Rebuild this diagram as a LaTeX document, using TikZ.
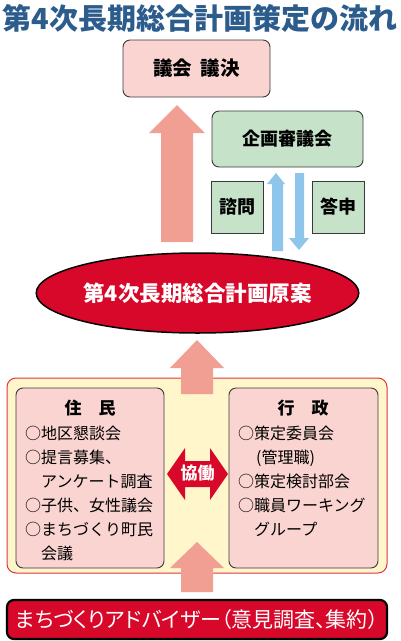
\documentclass[tikz,border=0pt]{standalone}
\usepackage{fontspec}
\setmainfont{Noto Sans CJK JP}
\newfontfamily\paltfont[RawFeature=+palt]{Noto Sans CJK JP}
\usetikzlibrary{shapes.geometric}
\definecolor{titleblue}{HTML}{2B5C8C}
\definecolor{pinkfill}{HTML}{FAD4D0}
\definecolor{arrowpink}{HTML}{F19E93}
\definecolor{greenfill}{HTML}{C6E2C8}
\definecolor{arrowblue}{HTML}{8EC5EB}
\definecolor{ellred}{HTML}{D7082A}
\definecolor{yellowfill}{HTML}{FFF6CC}
\definecolor{yellowborder}{HTML}{E0353F}
\definecolor{boxgray}{HTML}{3A3A3A}
\begin{document}
\begin{tikzpicture}[x=1pt,y=-1pt,
  rbox/.style={draw=boxgray, line width=0.9pt, rounded corners=7pt, inner sep=0pt},
  sbox/.style={draw=boxgray, line width=0.9pt, inner sep=0pt, fill=greenfill, minimum width=52, minimum height=52, font=\fontsize{18}{20}\selectfont\bfseries},
  item/.style={anchor=base west, inner sep=0pt, font=\fontsize{16}{20}\selectfont}]
\useasboundingbox (0,0) rectangle (400,641);
% title
\node[font=\fontsize{29}{30}\selectfont\bfseries, text=titleblue, inner sep=0pt] (title) at (200,18) {第4次長期総合計画策定の流れ};
% top box
\node[rbox, fill=pinkfill, minimum width=147, minimum height=57, font=\fontsize{19.5}{20}\selectfont\bfseries] (giketsu) at (196.5,68.5) {議会\hspace{0.45em}議決};
% big pink arrow 1
\fill[arrowpink] (161,242) -- (161,133) -- (149,133) -- (177,105) -- (205,133) -- (193,133) -- (193,242) -- cycle;
% council
\node[rbox, fill=greenfill, minimum width=151, minimum height=56, font=\fontsize{18}{20}\selectfont\bfseries] (kikaku) at (287.5,139) {企画審議会};
\node[sbox] (shimon) at (237,207) {諮問};
\node[sbox] (toushin) at (338.5,207) {答申};
% blue arrows
\fill[arrowblue] (272,251) -- (272,184) -- (267,184) -- (276,173) -- (285,184) -- (283,184) -- (283,251) -- cycle;
\fill[arrowblue] (295,173) -- (304,173) -- (304,238) -- (309,238) -- (299,250) -- (289,238) -- (295,238) -- cycle;
% ellipse
\node[ellipse, draw=black, line width=1.5pt, fill=ellred, minimum width=309, minimum height=80, inner sep=0pt, text=white, font=\fontsize{21.5}{22}\selectfont\bfseries] (gen) at (197.5,293) {第4次長期総合計画原案};
% yellow box
\node[draw=yellowborder, line width=1pt, rounded corners=9pt, fill=yellowfill, minimum width=380, minimum height=195, inner sep=0pt] (ybox) at (197,475.5) {};
% arrow 2
\fill[arrowpink] (181,394) -- (181,368) -- (170,368) -- (197,340) -- (224,368) -- (213,368) -- (213,394) -- cycle;
% resident / admin boxes
\node[rbox, fill=pinkfill, minimum width=148, minimum height=180] (jumin) at (90,478) {};
\node[rbox, fill=pinkfill, minimum width=149, minimum height=180] (gyosei) at (303.5,478) {};
\node[font=\fontsize{17}{20}\selectfont\bfseries, inner sep=0pt] (jh) at (90,408) {住　民};
\node[font=\fontsize{17}{20}\selectfont\bfseries, inner sep=0pt] (gh) at (303,408) {行　政};
\node[item] (j1) at (25,439) {○地区懇談会};
\node[item] (j2) at (25,463) {○提言募集、};
\node[item] (j3) at (41,487) {アンケート調査};
\node[item] (j4) at (25,511) {○子供、女性議会};
\node[item] (j5) at (25,535) {○まちづくり町民};
\node[item] (j6) at (41,559) {会議};
\node[item] (g1) at (238,439) {○策定委員会};
\node[item] (g2) at (256,463) {(管理職)};
\node[item] (g3) at (238,487) {○策定検討部会};
\node[item] (g4) at (238,511) {○職員ワーキング};
\node[item] (g5) at (254,535) {グループ};
% kyodo double arrow
\fill[ellred] (167,474) -- (185,448) -- (185,461) -- (210,461) -- (210,448) -- (228,474) -- (210,500) -- (210,487) -- (185,487) -- (185,500) -- cycle;
\node[text=white, font=\fontsize{17}{20}\selectfont\bfseries, inner sep=0pt] (kyodo) at (197.5,473) {協働};
% arrow 3
\fill[arrowpink] (181,592) -- (181,568) -- (170,568) -- (197,542) -- (224,568) -- (213,568) -- (213,592) -- cycle;
% bottom box
\node[draw=black, line width=2.2pt, rounded corners=7pt, fill=ellred, minimum width=380, minimum height=39, inner sep=0pt, text=white, font=\fontsize{21}{24}\paltfont] (adv) at (197,619.5) {まちづくりアドバイザー（意見調査、集約）};
\end{tikzpicture}
\end{document}
